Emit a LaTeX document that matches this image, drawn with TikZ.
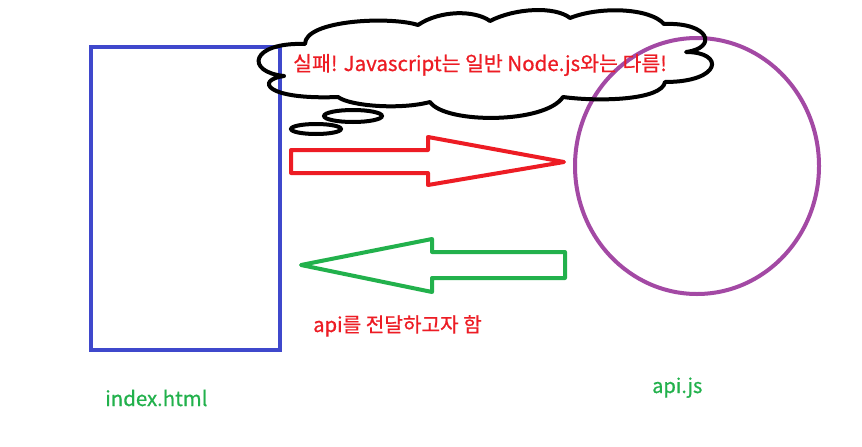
\documentclass[tikz,border=0pt]{standalone}
\usepackage{fontspec}
\setmainfont[FakeBold=0.7]{Noto Sans CJK KR}
\usetikzlibrary{shapes.geometric}
\definecolor{pred}{RGB}{237,28,36}
\definecolor{pgreen}{RGB}{34,177,76}
\definecolor{pblue}{RGB}{63,72,204}
\definecolor{ppurple}{RGB}{163,73,164}
\tikzset{
  stroke/.style={line width=4pt, line join=round, line cap=round},
  lbl/.style={inner sep=0pt, anchor=base west},
}
\begin{document}
\begin{tikzpicture}[x=1pt,y=-1pt]
\useasboundingbox[fill=white] (0,0) rectangle (862,447);
% index.html box
\draw[stroke, pblue, line cap=butt, line join=miter] (91,47) rectangle (280,350);
% api.js ellipse
\node[draw=ppurple, line width=4pt, ellipse, minimum width=244pt, minimum height=256pt, inner sep=0pt] (apiel) at (697,166) {};
% red arrow (to api.js)
\draw[stroke, pred] (291,150) -- (428,150) -- (428,137) -- (564,162) -- (428,185) -- (428,173) -- (291,173) -- cycle;
% green arrow (back to index.html)
\draw[stroke, pgreen] (565,252) -- (432,252) -- (432,239) -- (301,265) -- (432,292) -- (432,278) -- (565,278) -- cycle;
% cloud
\draw[stroke, black]
  (284,76) .. controls (245,72) and (250,42) .. (305,44)
  .. controls (305,20) and (390,16) .. (418,25)
  .. controls (440,10) and (475,10) .. (490,21)
  .. controls (515,8) and (555,6) .. (570,18)
  .. controls (600,6) and (650,8) .. (664,24)
  .. controls (710,22) and (718,48) .. (686,52)
  .. controls (725,52) and (722,82) .. (665,82)
  .. controls (662,100) and (600,102) .. (563,97)
  .. controls (545,124) and (445,124) .. (430,102)
  .. controls (400,110) and (350,106) .. (338,97)
  .. controls (265,100) and (255,80) .. (284,76);
\node[draw=black, line width=4pt, ellipse, minimum width=58pt, minimum height=12pt, inner sep=0pt] (bub1) at (353,116) {};
\node[draw=black, line width=4pt, ellipse, minimum width=50pt, minimum height=10pt, inner sep=0pt] (bub2) at (316,129) {};
% texts
\node[lbl, text=pred, font=\fontsize{20.5}{22}\selectfont] (msg) at (293,71) {실패! Javascript는 일반 Node.js와는 다름!};
\node[lbl, text=pred, font=\fontsize{20.2}{22}\selectfont] (apitxt) at (313,332) {api를 전달하고자 함};
\node[lbl, text=pgreen, font=\fontsize{20.4}{22}\selectfont] (idx) at (105,406) {index.html};
\node[lbl, text=pgreen, font=\fontsize{20}{22}\selectfont] (apijs) at (652,393) {api.js};
\end{tikzpicture}
\end{document}
